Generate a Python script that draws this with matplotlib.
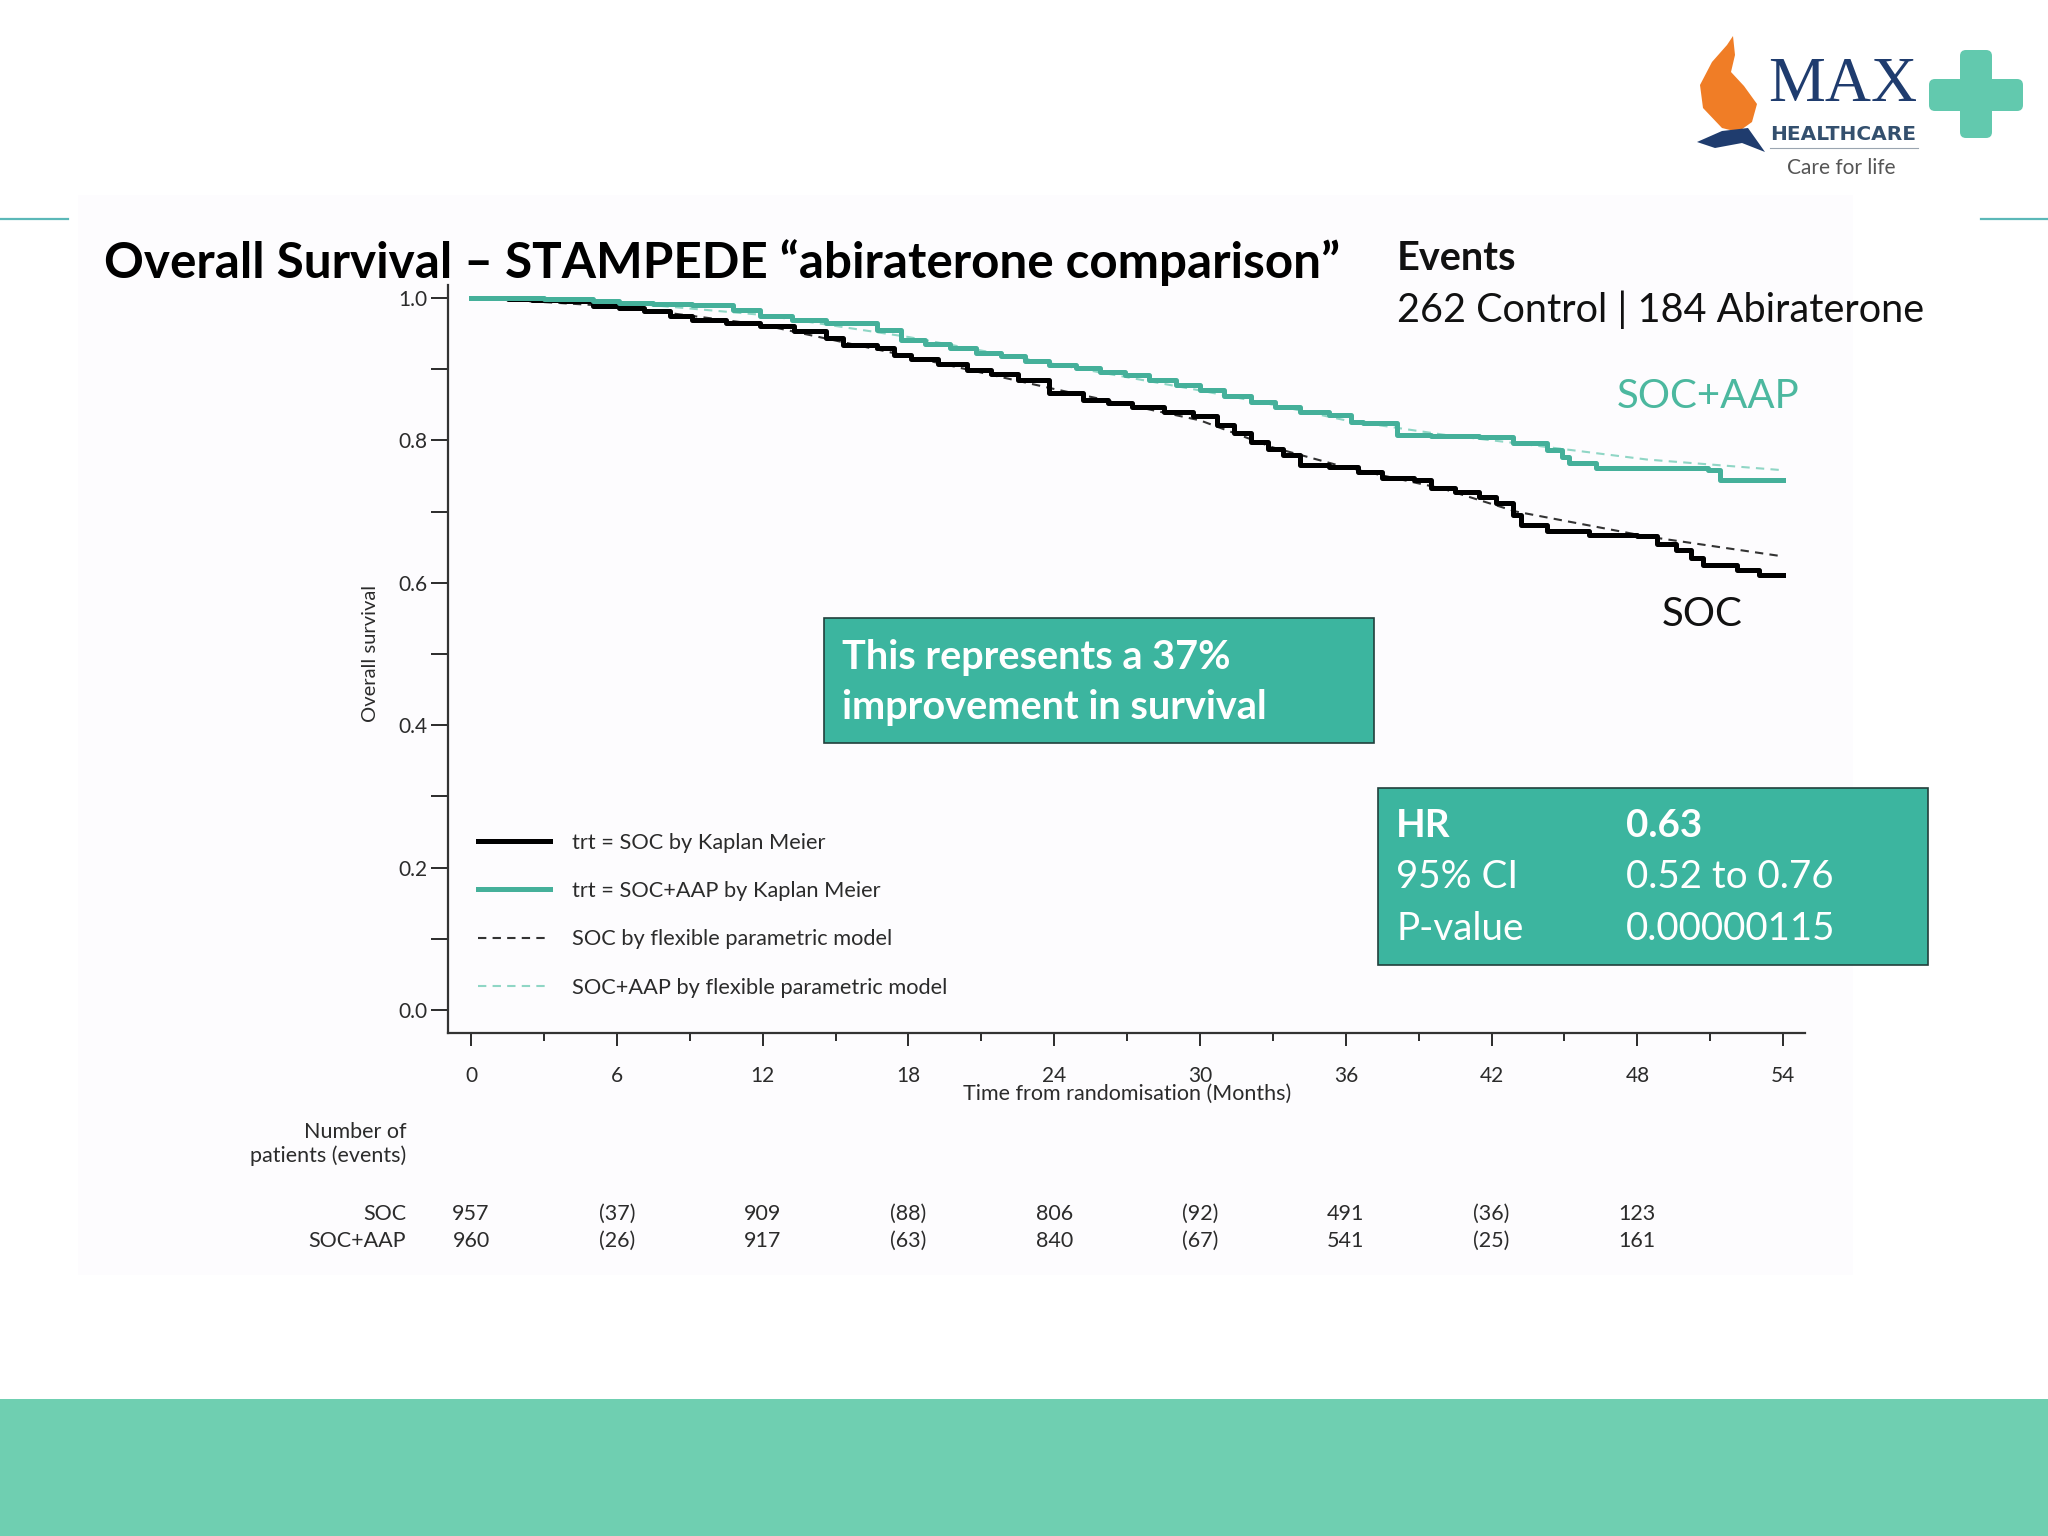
import matplotlib

matplotlib.use('Agg')
import matplotlib.pyplot as plt
from matplotlib.patches import Rectangle, Polygon, FancyBboxPatch
import numpy as np

plt.rcParams['font.family'] = ['Lato', 'DejaVu Sans']

# Kaplan Meier (months, survival)
soc_t = [0, 1.5, 2.5, 3.7, 5.0, 6.1, 7.1, 8.2, 9.1, 10.5, 11.9, 13.3, 14.6, 15.3,
         16.7, 17.4, 18.1, 19.2, 20.4, 21.4, 22.5, 23.8, 25.2, 26.2, 27.2, 28.5,
         29.7, 30.7, 31.4, 32.1, 32.8, 33.4, 34.1, 35.3, 36.5, 37.5, 38.8, 39.5,
         40.5, 41.5, 42.2, 42.9, 43.2, 44.3, 46.0, 48.0, 48.8, 49.6, 50.2, 50.7,
         52.1, 53.0, 54.0]
soc_s = [1.000, 0.999, 0.997, 0.995, 0.989, 0.986, 0.981, 0.975, 0.969, 0.964,
         0.960, 0.953, 0.943, 0.934, 0.929, 0.920, 0.914, 0.907, 0.899, 0.893,
         0.885, 0.866, 0.857, 0.852, 0.847, 0.840, 0.834, 0.822, 0.810, 0.798,
         0.788, 0.779, 0.765, 0.763, 0.756, 0.747, 0.744, 0.733, 0.727, 0.721,
         0.712, 0.695, 0.681, 0.672, 0.667, 0.665, 0.655, 0.646, 0.635, 0.625,
         0.618, 0.611, 0.611]

aap_t = [0, 3.0, 5.0, 6.1, 7.5, 9.1, 10.8, 11.9, 13.2, 14.6, 16.7, 17.7, 18.7,
         19.7, 20.8, 21.8, 22.8, 23.8, 24.9, 25.9, 26.9, 27.9, 29.0, 30.0, 31.0,
         32.1, 33.1, 34.1, 35.3, 36.2, 36.7, 38.1, 39.5, 41.5, 42.9, 44.3, 44.9,
         45.2, 46.3, 50.9, 51.4, 54.0]
aap_s = [1.000, 0.999, 0.996, 0.993, 0.992, 0.990, 0.983, 0.974, 0.969, 0.964,
         0.955, 0.941, 0.935, 0.929, 0.922, 0.918, 0.912, 0.906, 0.901, 0.896,
         0.891, 0.885, 0.878, 0.871, 0.862, 0.854, 0.847, 0.840, 0.836, 0.826,
         0.824, 0.808, 0.806, 0.805, 0.796, 0.787, 0.777, 0.768, 0.761, 0.758,
         0.744, 0.744]

# flexible parametric model fits
fit_t = [0, 6, 12, 18, 24, 30, 33, 36, 40, 43, 48.4, 54]
soc_fit = [1.0, 0.988, 0.962, 0.918, 0.872, 0.828, 0.790, 0.762, 0.732, 0.700, 0.665, 0.637]
aap_fit = [1.0, 0.994, 0.976, 0.945, 0.907, 0.870, 0.850, 0.828, 0.808, 0.796, 0.773, 0.758]

# number at risk table
risk_t = [0, 6, 12, 18, 24, 30, 36, 42, 48]
soc_risk = ['957', '(37)', '909', '(88)', '806', '(92)', '491', '(36)', '123']
aap_risk = ['960', '(26)', '917', '(63)', '840', '(67)', '541', '(25)', '161']

W, H = 2048, 1536
TEAL = '#45b09a'
BOX = '#3cb59f'
INK = '#2b2b2b'


def fx(x):
    return x / W


def fy(y):
    return 1 - y / H


fig = plt.figure(figsize=(20.48, 15.36), dpi=100)
fig.patch.set_facecolor('white')

# background layer
bg = fig.add_axes([0, 0, 1, 1], zorder=-2)
bg.set_xlim(0, W)
bg.set_ylim(H, 0)
bg.axis('off')
bg.add_patch(Rectangle((78, 195), 1775, 1080, color='#fdfcfe', lw=0))
bg.add_patch(Rectangle((0, 1399), W, H - 1399, color='#6fcfb1', lw=0))
bg.plot([0, 68], [219, 219], color='#5bb8b8', lw=1.6)
bg.plot([1981, W], [219, 219], color='#5bb8b8', lw=1.6)

# chart
ax = fig.add_axes([fx(448), fy(1033), (1805 - 448) / W, (1033 - 285) / H])
ax.patch.set_alpha(0)
ax.step(soc_t, soc_s, where='post', color='black', lw=3.6,
        label='trt = SOC by Kaplan Meier', zorder=3)
ax.step(aap_t, aap_s, where='post', color=TEAL, lw=3.6,
        label='trt = SOC+AAP by Kaplan Meier', zorder=3)
ax.plot(fit_t, soc_fit, color='#333333', lw=1.5, ls=(0, (4, 3)),
        label='SOC by flexible parametric model', zorder=2)
ax.plot(fit_t, aap_fit, color='#8fd6c5', lw=1.5, ls=(0, (4, 3)),
        label='SOC+AAP by flexible parametric model', zorder=2)

ax.set_xlim(-0.95, 54.9)
ax.set_ylim(-0.032, 1.018)
ax.spines['top'].set_visible(False)
ax.spines['right'].set_visible(False)
for s in ['left', 'bottom']:
    ax.spines[s].set_color('#333333')
    ax.spines[s].set_linewidth(1.6)
ax.set_xticks(np.arange(0, 55, 6))
ax.set_xticks(np.arange(3, 55, 6), minor=True)
ax.set_yticks(np.arange(0, 1.01, 0.2))
ax.set_yticks(np.arange(0.1, 1.0, 0.2), minor=True)
ax.set_yticklabels(['0.0', '0.2', '0.4', '0.6', '0.8', '1.0'])
ax.tick_params(axis='x', which='major', length=9, width=1.4, pad=15,
               labelsize=15, colors=INK)
ax.tick_params(axis='x', which='minor', length=6, width=1.4, colors=INK)
ax.tick_params(axis='y', which='both', length=12, width=1.4, pad=3,
               labelsize=15, colors=INK)

ax.legend(loc='lower left', bbox_to_anchor=(0.008, 0.021), frameon=False,
          fontsize=15.7, handlelength=3.3, handletextpad=1.0, labelspacing=1.3,
          labelcolor=INK)

fig.text(fx(371), fy(653), 'Overall survival', rotation=90, ha='center',
         va='center', fontsize=14.5, color=INK)
fig.text(fx(1127), fy(1094), 'Time from randomisation (Months)', ha='center',
         va='center', fontsize=15.5, color=INK)

# number at risk
fig.text(fx(406), fy(1132), 'Number of', ha='right', va='center', fontsize=15.5,
         color=INK)
fig.text(fx(406), fy(1156), 'patients (events)', ha='right', va='center',
         fontsize=15.5, color=INK)
fig.text(fx(406), fy(1214), 'SOC', ha='right', va='center', fontsize=15.5,
         color=INK)
fig.text(fx(406), fy(1241), 'SOC+AAP', ha='right', va='center', fontsize=15.5,
         color=INK)
for t, a, b in zip(risk_t, soc_risk, aap_risk):
    xf = ax.transData.transform((t, 0))[0] / fig.bbox.width
    fig.text(xf, fy(1214), a, ha='center', va='center', fontsize=15.5, color=INK)
    fig.text(xf, fy(1241), b, ha='center', va='center', fontsize=15.5, color=INK)

# overlay: slide texts, boxes, logo
ov = fig.add_axes([0, 0, 1, 1], zorder=5)
ov.set_xlim(0, W)
ov.set_ylim(H, 0)
ov.axis('off')
ov.patch.set_alpha(0)

ov.text(104, 263, 'Overall Survival – STAMPEDE “abiraterone comparison”',
        fontsize=35.6, fontweight='bold', va='center', ha='left', color='black')
ov.text(1397, 258, 'Events', fontsize=28.5, fontweight='bold', va='center', color='#111111')
ov.text(1397, 310, '262 Control | 184 Abiraterone', fontsize=28.5, va='center',
        color='#111111')
ov.text(1708, 396, 'SOC+AAP', fontsize=29, va='center', ha='center', color='#4cb89f')
ov.text(1702, 614, 'SOC', fontsize=29, va='center', ha='center', color='#111111')

ov.add_patch(Rectangle((824, 618), 550, 125, facecolor=BOX, edgecolor='#22403c', lw=1.2))
ov.text(842, 657, 'This represents a 37%', fontsize=28.5, fontweight='bold',
        color='white', va='center')
ov.text(842, 708, 'improvement in survival', fontsize=28.5, fontweight='bold',
        color='white', va='center')

ov.add_patch(Rectangle((1378, 788), 550, 177, facecolor=BOX, edgecolor='#22403c', lw=1.2))
rows = [('HR', '0.63', 'bold'), ('95% CI', '0.52 to 0.76', 'normal'),
        ('P-value', '0.00000115', 'normal')]
for (k, v, wgt), yy in zip(rows, [826, 877, 929]):
    ov.text(1396, yy, k, fontsize=27.7, fontweight=wgt, color='white', va='center')
    ov.text(1626, yy, v, fontsize=27.7, fontweight=wgt, color='white', va='center')

# logo
ov.add_patch(Polygon([(1722, 128), (1703, 108), (1700, 85), (1712, 62), (1727, 45),
                      (1733, 36), (1735, 55), (1731, 72), (1744, 86), (1757, 104),
                      (1752, 122), (1738, 132)], closed=True, color='#f07d26', lw=0))
ov.add_patch(Polygon([(1697, 142), (1722, 131), (1748, 128), (1765, 152),
                      (1742, 143), (1715, 148)], closed=True, color='#1f3c6e', lw=0))
ov.text(1768, 86, 'MAX', fontsize=46, family='Liberation Serif', color='#1f3c6e',
        va='center', ha='left')
ov.text(1770, 134, 'HEALTHCARE', fontsize=14.5, fontweight='bold', color='#34506e',
        va='center', ha='left', family='DejaVu Sans')
ov.plot([1770, 1918], [148, 148], color='#9aa5b0', lw=0.8)
ov.text(1787, 168, 'Care for life', fontsize=15, color='#555555', va='center', ha='left')
ov.add_patch(FancyBboxPatch((1960, 50), 32, 88, boxstyle='round,pad=0,rounding_size=6',
                            color='#62c9ae', lw=0))
ov.add_patch(FancyBboxPatch((1929, 79), 94, 32, boxstyle='round,pad=0,rounding_size=6',
                            color='#62c9ae', lw=0))

fig.savefig('out.png', dpi=100)
